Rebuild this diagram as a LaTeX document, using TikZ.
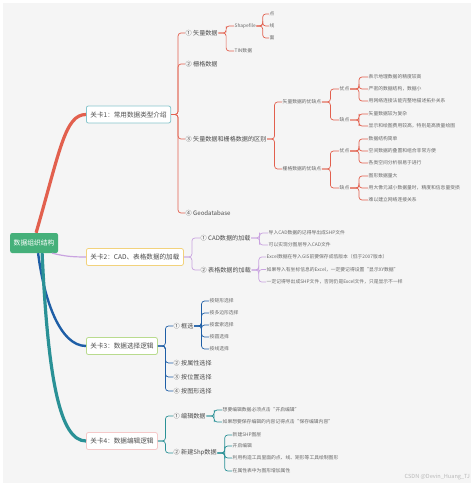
\documentclass[tikz,border=0pt]{standalone}
\usepackage{fontspec}
\setmainfont{Noto Sans CJK SC}
\usetikzlibrary{calc}

\definecolor{bg}{HTML}{F5F5F5}
\definecolor{txt}{HTML}{4D4D4D}
\definecolor{rootgreen}{HTML}{45B07A}
\definecolor{redline}{HTML}{E2604E}
\definecolor{lilac}{HTML}{C9A3E0}
\definecolor{blueline}{HTML}{1E5EA6}
\definecolor{tealline}{HTML}{2A9196}
\definecolor{gate1}{HTML}{86C5CC}
\definecolor{gate2}{HTML}{F2D27C}
\definecolor{gate3}{HTML}{B9DB8E}
\definecolor{gate4}{HTML}{F5C9C9}

% brace-like branch from parent to child
\newcommand\brch[3]{\draw[#1] (#2.east) -| ($(#2.east)!.5!(#3.west)$) |- (#3.west);}

\begin{document}
\begin{tikzpicture}[x=1pt, y=-1pt,
    rootbox/.style={anchor=west, fill=rootgreen, rounded corners=2pt, text=white, minimum height=20pt, inner xsep=3.5pt, font=\fontsize{6.8}{8}\selectfont},
    gate/.style={anchor=west, draw, fill=white, rounded corners=2pt, line width=0.8pt, text=txt, minimum height=17pt, inner xsep=4pt, font=\fontsize{6.6}{8}\selectfont},
    lv/.style={anchor=west, inner sep=0.5pt, text=txt, font=\fontsize{6.1}{7}\selectfont},
    it/.style={anchor=west, inner sep=0.5pt, text=txt!85, font=\fontsize{4.8}{5.5}\selectfont},
    br1/.style={redline, line width=0.7pt, rounded corners=3pt},
    br2/.style={lilac, line width=0.7pt, rounded corners=3pt},
    br3/.style={blueline, line width=0.7pt, rounded corners=3pt},
    br4/.style={tealline, line width=0.7pt, rounded corners=3pt}]

    % canvas
    \fill[white] (0,0) rectangle (474,486);
    \fill[bg] (3,3) rectangle (471,483);
    \useasboundingbox (0,0) rectangle (474,486);

    % root
    \node[rootbox] (root) at (10,243) {数据组织结构};

    % four stages
    \node[gate, draw=gate1] (g1) at (86,114.5) {关卡1：常用数据类型介绍};
    \node[gate, draw=gate2] (g2) at (86,257) {关卡2：CAD、表格数据的加载};
    \node[gate, draw=gate3] (g3) at (86,346) {关卡3：数据选择逻辑};
    \node[gate, draw=gate4] (g4) at (86,441) {关卡4：数据编辑逻辑};

    \draw[redline, line width=3.2pt] ([xshift=2pt]root.north) .. controls +(24,-83) and +(-21,0) .. (g1.west);
    \draw[lilac, line width=1.2pt] ([xshift=-6pt]root.south east) .. controls +(12,3) and +(-14,0) .. (g2.west);
    \draw[blueline, line width=2.4pt] ([xshift=4pt]root.south) .. controls +(6,47) and +(-26,0) .. (g3.west);
    \draw[tealline, line width=3.2pt] ([xshift=8pt]root.south) .. controls +(6,127) and +(-26,0) .. (g4.west);

    % stage 1
    \node[lv] (vec) at (185,33) {① 矢量数据};
    \node[lv] (ras) at (185,64) {② 栅格数据};
    \node[lv] (dif) at (185,139) {③ 矢量数据和栅格数据的区别};
    \node[lv] (gdb) at (185,213) {④ Geodatabase};
    \brch{br1}{g1}{vec}
    \brch{br1}{g1}{ras}
    \brch{br1}{g1}{dif}
    \brch{br1}{g1}{gdb}

    \node[it] (shp) at (234,26) {Shapefile};
    \node[it] (tin) at (234,51) {TIN数据};
    \brch{br1}{vec}{shp}
    \brch{br1}{vec}{tin}
    \node[it] (pt) at (269,14) {点};
    \node[it] (ln) at (269,26) {线};
    \node[it] (pg) at (269,38) {面};
    \brch{br1}{shp}{pt}
    \brch{br1}{shp}{ln}
    \brch{br1}{shp}{pg}

    \node[it] (vpc) at (282,102) {矢量数据的优缺点};
    \node[it] (rpc) at (282,169) {栅格数据的优缺点};
    \brch{br1}{dif}{vpc}
    \brch{br1}{dif}{rpc}
    \node[it] (vpro) at (339,89) {优点};
    \node[it] (vcon) at (339,120) {缺点};
    \node[it] (rpro) at (339,151) {优点};
    \node[it] (rcon) at (339,188) {缺点};
    \brch{br1}{vpc}{vpro}
    \brch{br1}{vpc}{vcon}
    \brch{br1}{rpc}{rpro}
    \brch{br1}{rpc}{rcon}

    \node[it] (vp1) at (368,77) {表示地理数据的精度较高};
    \node[it] (vp2) at (368,89) {严密的数据结构，数据小};
    \node[it] (vp3) at (368,101) {用网络连接法能完整地描述拓扑关系};
    \node[it] (vc1) at (368,114) {矢量数据较为复杂};
    \node[it] (vc2) at (368,126) {显示和绘图费用较高，特别是高质量绘图};
    \brch{br1}{vpro}{vp1}
    \brch{br1}{vpro}{vp2}
    \brch{br1}{vpro}{vp3}
    \brch{br1}{vcon}{vc1}
    \brch{br1}{vcon}{vc2}

    \node[it] (rp1) at (368,139) {数据结构简单};
    \node[it] (rp2) at (368,151) {空间数据的叠置和组合非常方便};
    \node[it] (rp3) at (368,163) {各类空间分析很易于进行};
    \node[it] (rc1) at (368,176) {图形数据量大};
    \node[it] (rc2) at (368,188) {用大像元减小数据量时，精度和信息量受损};
    \node[it] (rc3) at (368,200) {难以建立网络连接关系};
    \brch{br1}{rpro}{rp1}
    \brch{br1}{rpro}{rp2}
    \brch{br1}{rpro}{rp3}
    \brch{br1}{rcon}{rc1}
    \brch{br1}{rcon}{rc2}
    \brch{br1}{rcon}{rc3}

    % stage 2
    \node[lv] (cad) at (200,238) {① CAD数据的加载};
    \node[lv] (tab) at (200,270) {② 表格数据的加载};
    \brch{br2}{g2}{cad}
    \brch{br2}{g2}{tab}
    \node[it] (cad1) at (268,233) {导入CAD数据的记得导出成SHP文件};
    \node[it] (cad2) at (268,245) {可以实现分图层导入CAD文件};
    \brch{br2}{cad}{cad1}
    \brch{br2}{cad}{cad2}
    \node[it] (tab1) at (266,257) {Excel数据在导入GIS前要保存成低版本（低于2007版本）};
    \node[it] (tab2) at (266,269.5) {如果导入有坐标信息的Excel，一定要记得设置“显示XY数据”};
    \node[it] (tab3) at (266,282) {一定记得导出成SHP文件，否则仍是Excel文件，只是显示不一样};
    \brch{br2}{tab}{tab1}
    \brch{br2}{tab}{tab2}
    \brch{br2}{tab}{tab3}

    % stage 3
    \node[lv] (frm) at (173,326) {① 框选};
    \node[lv] (att) at (173,363) {② 按属性选择};
    \node[lv] (loc) at (173,377) {③ 按位置选择};
    \node[lv] (gra) at (173,391) {④ 按图形选择};
    \brch{br3}{g3}{frm}
    \brch{br3}{g3}{att}
    \brch{br3}{g3}{loc}
    \brch{br3}{g3}{gra}
    \node[it] (frm1) at (209,301) {按矩形选择};
    \node[it] (frm2) at (209,313) {按多边形选择};
    \node[it] (frm3) at (209,325) {按套索选择};
    \node[it] (frm4) at (209,337) {按圆选择};
    \node[it] (frm5) at (209,349) {按线选择};
    \brch{br3}{frm}{frm1}
    \brch{br3}{frm}{frm2}
    \brch{br3}{frm}{frm3}
    \brch{br3}{frm}{frm4}
    \brch{br3}{frm}{frm5}

    % stage 4
    \node[lv] (edt) at (173,416) {① 编辑数据};
    \node[lv] (new) at (173,453) {② 新建Shp数据};
    \brch{br4}{g4}{edt}
    \brch{br4}{g4}{new}
    \node[it] (edt1) at (222,410) {想要编辑数据必须点击“开启编辑”};
    \node[it] (edt2) at (222,422) {如果想要保存编辑的内容记得点击“保存编辑内容”};
    \brch{br4}{edt}{edt1}
    \brch{br4}{edt}{edt2}
    \node[it] (new1) at (232,435) {新建SHP图层};
    \node[it] (new2) at (232,446) {开启编辑};
    \node[it] (new3) at (232,458) {利用构造工具里面的点、线、矩形等工具绘制图形};
    \node[it] (new4) at (232,471) {在属性表中为图形增加属性};
    \brch{br4}{new}{new1}
    \brch{br4}{new}{new2}
    \brch{br4}{new}{new3}
    \brch{br4}{new}{new4}

    % watermark
    \node[anchor=east, inner sep=0pt, text=gray!55, font=\fontsize{5.6}{6}\selectfont] (mark) at (470,477) {CSDN @Devin\_Huang\_TJ};
\end{tikzpicture}
\end{document}
